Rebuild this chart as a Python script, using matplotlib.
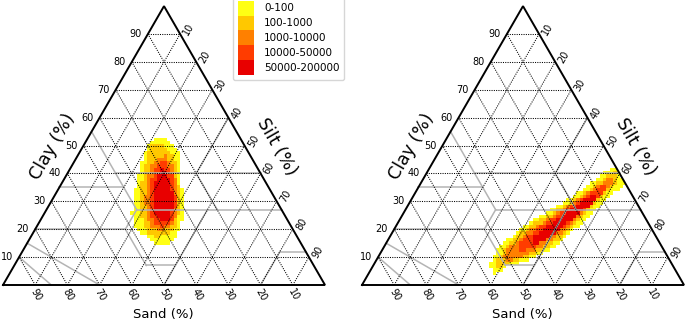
import numpy as np
import matplotlib
matplotlib.use("Agg")
from matplotlib import pyplot as plt
from matplotlib.path import Path
from matplotlib.colors import ListedColormap, BoundaryNorm
from matplotlib.patches import Patch, Polygon

H = np.sqrt(3) / 2

# count classes of the density map
class_labels = ["0-100", "100-1000", "1000-10000", "10000-50000", "50000-200000"]
class_colors = ["#ffff14", "#ffc800", "#ff8000", "#ff3c00", "#e80000"]

# outlines of each count class as (sand %, clay %)
left_levels = [
    [(28, 52), (24, 53), (22, 51), (21.5, 47.7), (24, 41), (29, 30.5), (33, 22.6),
     (36.7, 17.9), (41, 15), (44, 14), (46, 14.7), (47, 17.6), (49, 20.4), (47, 26),
     (42, 34), (37, 41), (32, 48)],
    [(28, 51), (25, 50.5), (24, 47.7), (24.5, 43), (27.4, 35.9), (32.8, 25.1),
     (36.7, 19.7), (40, 17.6), (44.2, 17.2), (45.8, 19), (45.5, 22.6), (41.9, 30.5),
     (38, 37.6), (33.2, 44.8), (30.5, 48.4)],
    [(29.2, 45.9), (26.3, 46.3), (26, 43), (27.5, 37.6), (30.7, 30.5), (34.3, 24),
     (37.9, 20.4), (41.6, 19.4), (43.5, 20.4), (43.3, 24), (40.7, 30.5), (37.1, 36.9),
     (32.9, 42.3)],
    [(29.2, 44.1), (27.3, 44.1), (27.3, 40.5), (28.7, 35.9), (31.9, 28.7), (34.9, 24),
     (38.2, 21.2), (40.8, 20.8), (42, 22.2), (41.3, 26.2), (38.5, 32.3), (34.6, 38.4),
     (31.5, 42)],
    [(29.6, 42), (28.8, 41.2), (29.3, 37.6), (31.1, 32.3), (33.8, 26.9), (36.8, 23.3),
     (39.6, 22.6), (40.1, 24.7), (39.1, 28.7), (36.4, 34.1), (33.3, 38.4)],
]

right_levels = [
    [(56.1, 8.2), (51.8, 12.5), (47.9, 15.4), (43.2, 18.6), (37.3, 22.2), (29, 26.5),
     (21.9, 30.1), (16.2, 33.3), (8.8, 37.6), (3, 41.2), (0, 42.3), (0, 36),
     (7.8, 31.6), (19.1, 23.3), (27.2, 17.6), (32, 14.3), (38.9, 11.1), (45.3, 8.2),
     (51.3, 6.8), (55.4, 4.7), (57.8, 3.6)],
    [(54.3, 8.2), (49.9, 12.5), (45.4, 16.1), (40.8, 19), (36, 21.9), (28.9, 25.5),
     (21.8, 29), (15.4, 32.6), (8.2, 36.9), (3.1, 39.8), (0.5, 40.5), (2, 37.6),
     (8.6, 31.9), (19.2, 24.4), (27.3, 18.6), (33.3, 14.7), (39.4, 11.8), (45.7, 9.3),
     (51.2, 7.5), (54.7, 6.1)],
    [(51.4, 10.2), (47.1, 13.8), (42.6, 16.6), (37, 20.2), (30.3, 23.8), (23, 27.8),
     (15.8, 31.7), (8.8, 35.6), (3.7, 38.5), (2.3, 38.9), (5.5, 35), (12.4, 30),
     (20.1, 24.6), (27.7, 19.2), (33.8, 15.6), (40.1, 12.4), (46, 9.9), (51, 8.1)],
    [(44.2, 14.7), (38.6, 18.3), (32, 22.2), (24.8, 26.2), (17, 30.5), (10.1, 34.4),
     (5.9, 36.6), (8.5, 32.6), (14.8, 28.7), (21.8, 24), (28.6, 19.7), (34.7, 16.2),
     (40.5, 13.3), (45.1, 11.5)],
    [(38.7, 16.9), (32.9, 20.5), (26.5, 24.1), (19.3, 28.4), (13.2, 32), (10, 33.4),
     (12, 30), (17.2, 27.2), (24, 22.9), (30.3, 18.9), (35.9, 15.7), (40.3, 13.9)],
]

# USDA texture class boundaries as (sand, clay) end points
usda_segments = [
    ((85, 0), (90, 10)), ((70, 0), (85, 15)), ((80, 20), (52, 20)), ((52, 20), (52, 7)),
    ((52, 7), (43, 7)), ((43, 7), (50, 0)), ((43, 7), (23, 27)), ((52, 20), (45, 27)),
    ((45, 27), (0, 27)), ((20, 0), (8, 12)), ((8, 12), (0, 12)), ((65, 35), (45, 35)),
    ((45, 27), (45, 55)), ((20, 27), (20, 40)), ((45, 40), (0, 40)), ((20, 40), (0, 60)),
]

tick_values = [10, 20, 30, 40, 50, 60, 70, 80, 90]


def to_xy(sand, clay):
    sand = np.asarray(sand, float) / 100
    clay = np.asarray(clay, float) / 100
    return 1 - sand - clay / 2, clay * H


def draw_density(ax, levels, step=0.0104):
    xe = np.arange(0, 1 + step, step)
    ye = np.arange(0, H + step, step)
    xc, yc = np.meshgrid((xe[:-1] + xe[1:]) / 2, (ye[:-1] + ye[1:]) / 2)
    pts = np.column_stack([xc.ravel(), yc.ravel()])
    grid = np.zeros(len(pts))
    for i, poly in enumerate(levels):
        px, py = to_xy([p[0] for p in poly], [p[1] for p in poly])
        inside = Path(np.column_stack([px, py])).contains_points(pts)
        grid[inside] = i + 1
    grid = np.ma.masked_equal(grid.reshape(xc.shape), 0)
    cmap = ListedColormap(class_colors)
    norm = BoundaryNorm(np.arange(0.5, len(class_colors) + 1), cmap.N)
    mesh = ax.pcolormesh(xe, ye, grid, cmap=cmap, norm=norm, zorder=1)
    tri = Polygon([(0, 0), (1, 0), (0.5, H)], closed=True, transform=ax.transData)
    mesh.set_clip_path(tri)


def draw_triangle(ax):
    for a, b in usda_segments:
        x, y = to_xy([a[0], b[0]], [a[1], b[1]])
        ax.plot(x, y, color="#b4b4b4", lw=1.1, zorder=2)

    for v in tick_values:
        # clay, sand and silt grid lines
        x, y = to_xy([100 - v, 0], [v, v])
        ax.plot(x, y, color="black", lw=0.75, ls=(0, (1, 1.2)), zorder=3)
        x, y = to_xy([v, v], [0, 100 - v])
        ax.plot(x, y, color="black", lw=0.75, ls=(0, (1, 1.2)), zorder=3)
        x, y = to_xy([100 - v, 0], [0, 100 - v])
        ax.plot(x, y, color="black", lw=0.75, ls=(0, (1, 1.2)), zorder=3)

        cx, cy = to_xy(100 - v, v)
        ax.text(cx - 0.019, cy, str(v), ha="right", va="center", fontsize=7)
        sx, sy = to_xy(0, 100 - v)
        ax.text(sx + 0.027, sy + 0.015, str(v), ha="center", va="center",
                rotation=60, fontsize=7)
        bx, by = to_xy(v, 0)
        ax.text(bx + 0.002, by - 0.032, str(v), ha="center", va="center",
                rotation=-60, fontsize=7)

    ax.plot([0, 1, 0.5, 0], [0, 0, H, 0], color="black", lw=1.4, zorder=4,
            solid_joinstyle="miter")

    ax.text(0.155, 0.429, "Clay (%)", rotation=60, ha="center", va="center", fontsize=12.5)
    ax.text(0.851, 0.429, "Silt (%)", rotation=-60, ha="center", va="center", fontsize=12.5)
    ax.text(0.497, -0.093, "Sand (%)", ha="center", va="center", fontsize=9.5)


fig = plt.figure(figsize=(6.85, 3.24), dpi=100)

ax_left = fig.add_axes([0, 0, 340 / 685, 1])
ax_left.set_xlim(-3 / 322, 337 / 322)
ax_left.set_ylim(-39 / 322, 285 / 322)

ax_right = fig.add_axes([345 / 685, 0, 340 / 685, 1])
ax_right.set_xlim(-17 / 322, 323 / 322)
ax_right.set_ylim(-39 / 322, 285 / 322)

for ax, levels in [(ax_left, left_levels), (ax_right, right_levels)]:
    ax.axis("off")
    draw_density(ax, levels)
    draw_triangle(ax)

handles = [Patch(facecolor=c, edgecolor="none", label=l) for c, l in zip(class_colors, class_labels)]
fig.legend(handles=handles, loc="upper left", bbox_to_anchor=(233 / 685, 1 + 4 / 324),
           fontsize=7.5, handlelength=1.55, handleheight=1.82, labelspacing=0,
           handletextpad=1.0, borderpad=0.45, borderaxespad=0)

fig.savefig("out.png", dpi=100)
